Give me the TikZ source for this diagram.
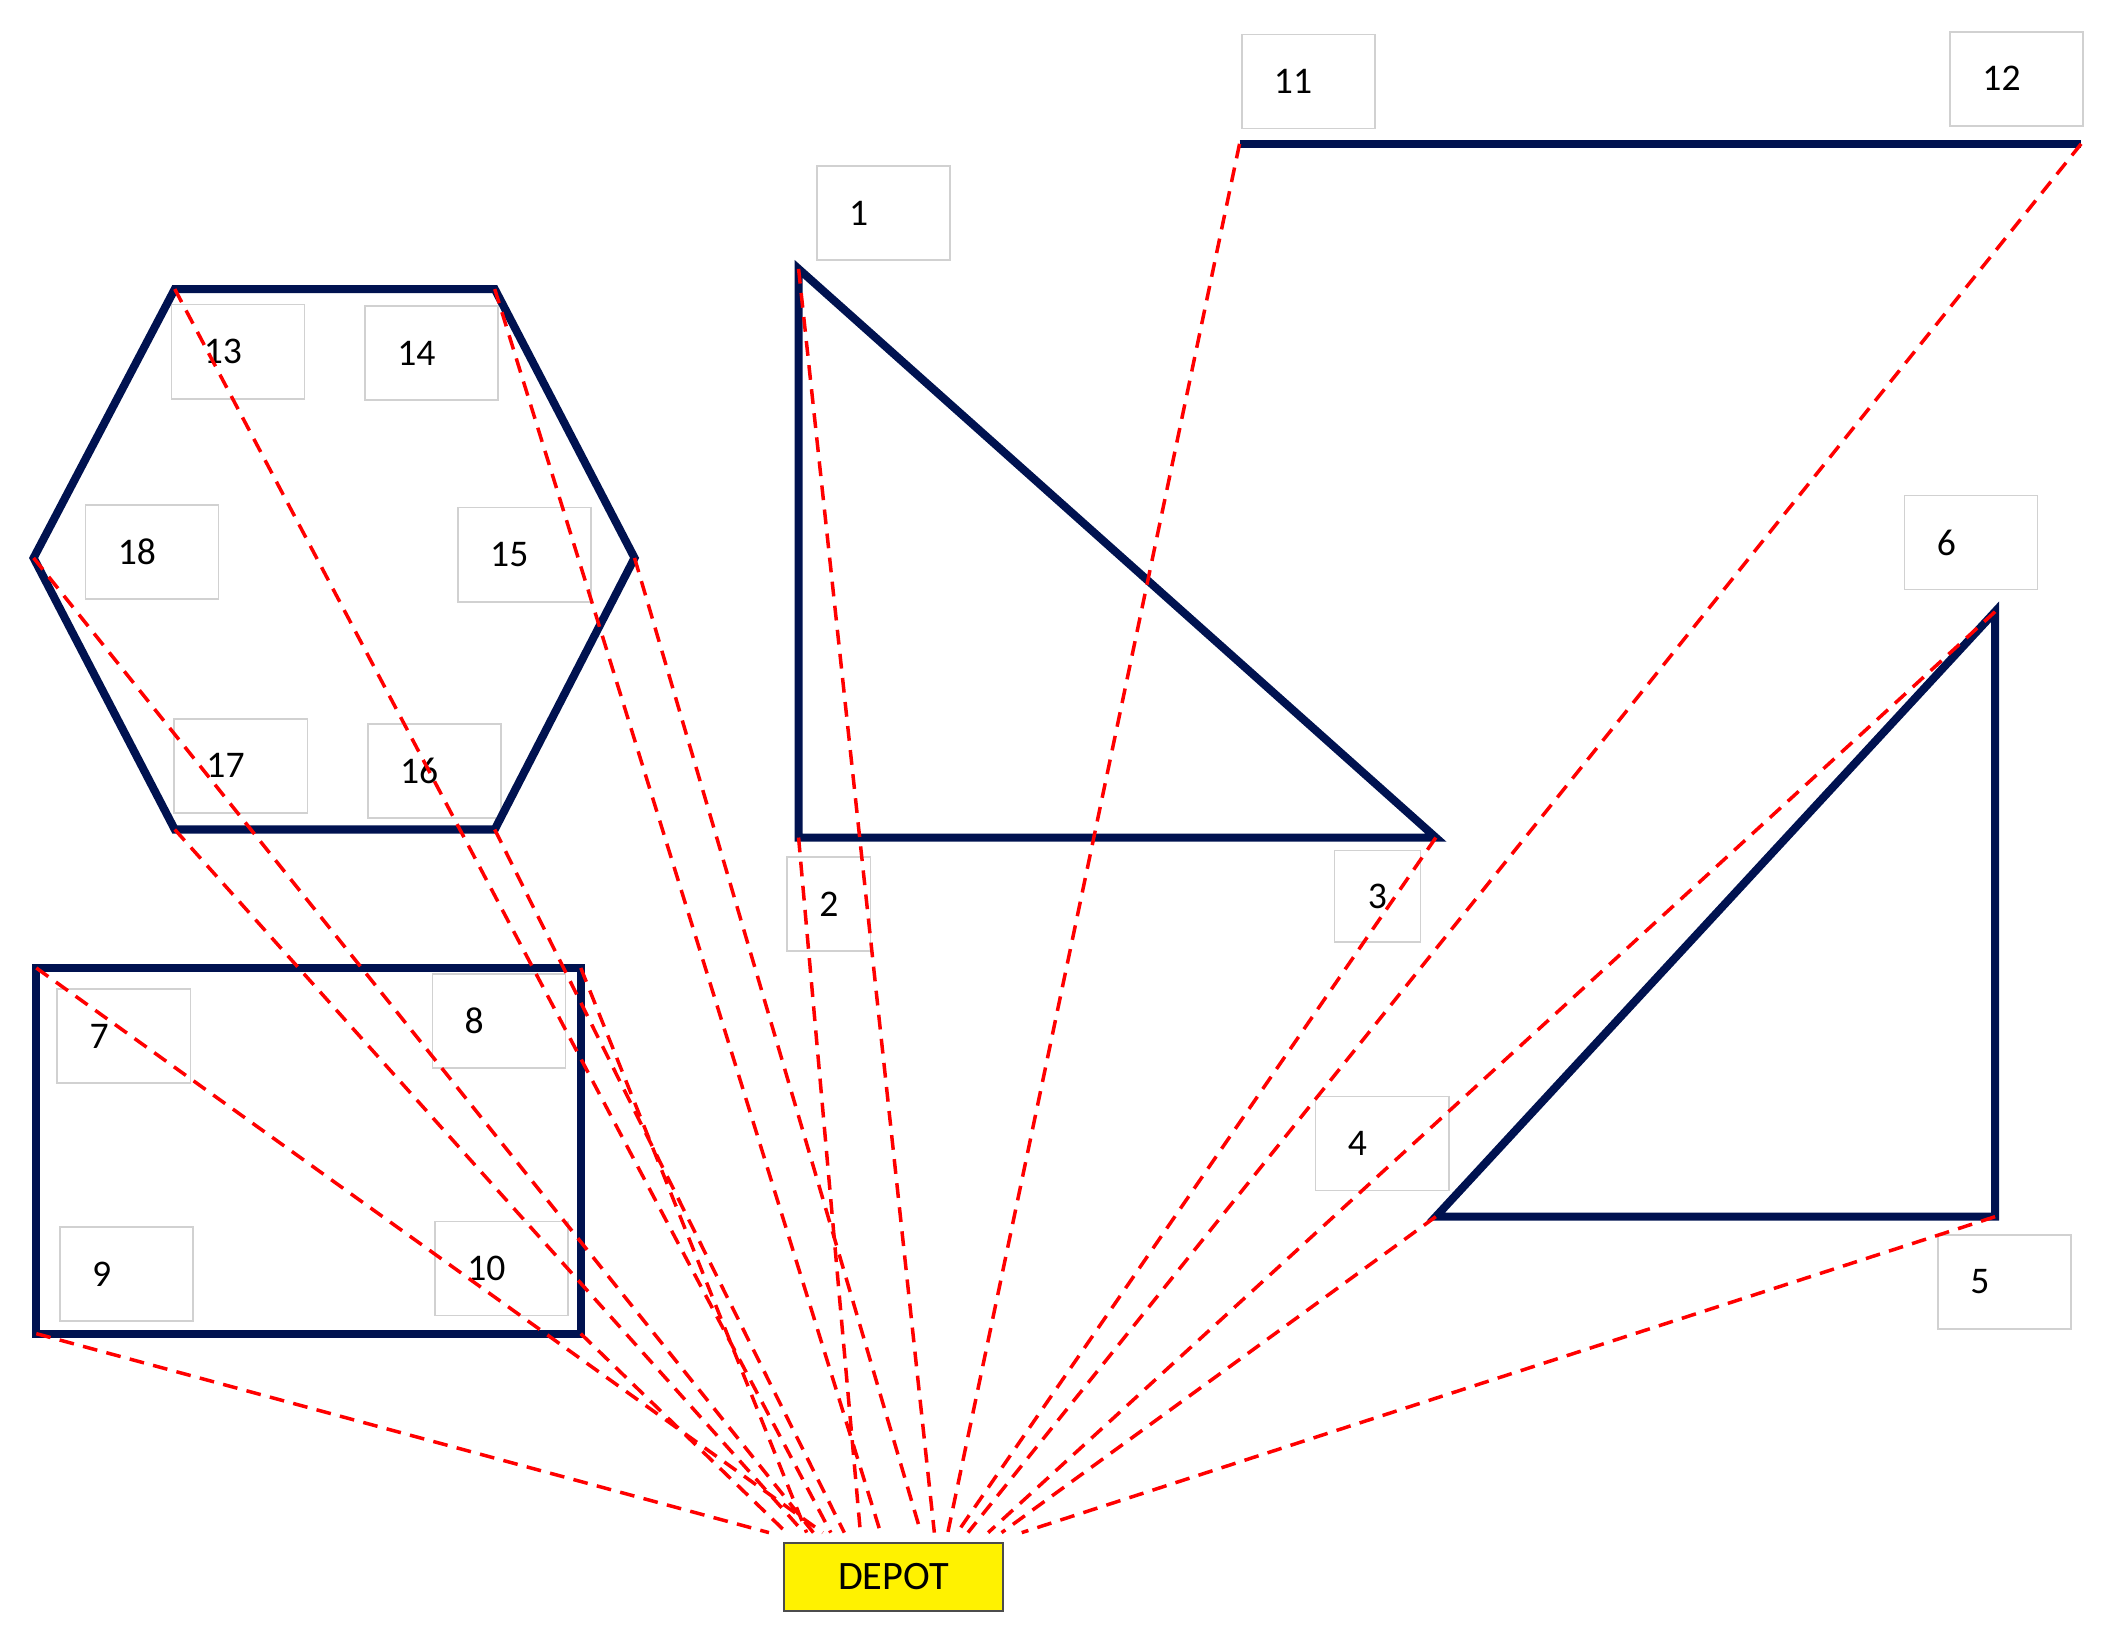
\documentclass[tikz,border=0pt]{standalone}
\usepackage{fontspec}
\setmainfont{Carlito}
\begin{document}
\begin{tikzpicture}[x=1pt,y=-1pt,
  outline/.style={draw={rgb,255:red,0;green,18;blue,80},line width=6pt,line join=miter},
  route/.style={draw=red,line width=2.6pt,dash pattern=on 11pt off 7pt},
  lbl/.style={draw=black!18,line width=1.2pt,minimum width=99pt,minimum height=70pt,inner sep=0pt,fill=white,font=\fontsize{28}{30}\selectfont,text width=99pt,align=left},
]
\useasboundingbox (0,0) rectangle (1568,1221);
% vertices
\coordinate (h1) at (130,215); \coordinate (h2) at (368,215); \coordinate (h3) at (472,415);
\coordinate (h4) at (368,617); \coordinate (h5) at (130,617); \coordinate (h6) at (25,415);
\coordinate (r1) at (27,720); \coordinate (r2) at (432,720); \coordinate (r3) at (432,992); \coordinate (r4) at (27,992);
\coordinate (t1) at (594,200); \coordinate (t2) at (594,623); \coordinate (t3) at (1068,623);
\coordinate (l1) at (922,107); \coordinate (l2) at (1548,107);
\coordinate (u1) at (1484,455); \coordinate (u2) at (1068,905); \coordinate (u3) at (1484,905);
% labels
\def\L#1#2#3{\node[lbl,anchor=north west] (n#1) at (#2,#3) {\hspace*{24pt}#1};}
\L{1}{607}{123}\L{11}{923}{25}\L{12}{1450}{23}\L{13}{127}{226}\L{14}{271}{227}
\L{18}{63}{375}\L{15}{340}{377}\L{17}{129}{534}\L{16}{273}{538}
\L{8}{321}{724}\L{7}{42}{735}\L{9}{44}{912}\L{10}{323}{908}
\L{4}{978}{815}\L{6}{1416}{368}\L{5}{1441}{918}
\node[draw=black!18,line width=1.2pt,minimum width=62pt,minimum height=70pt,inner sep=0pt,fill=white,font=\fontsize{28}{30}\selectfont,anchor=north west] (n2) at (585,637) {2};
\node[draw=black!18,line width=1.2pt,minimum width=64pt,minimum height=68pt,inner sep=0pt,fill=white,font=\fontsize{28}{30}\selectfont,anchor=north west] (n3) at (992,632) {3};
% shapes
\draw[outline] (h1)--(h2)--(h3)--(h4)--(h5)--(h6)--cycle;
\draw[outline] (r1)--(r2)--(r3)--(r4)--cycle;
\draw[outline] (t1)--(t2)--(t3)--cycle;
\draw[outline] (l1)--(l2);
\draw[outline] (u1)--(u2)--(u3)--cycle;
% depot
\node[draw=black!70,line width=1.5pt,fill=yellow,minimum width=163pt,minimum height=50pt,inner sep=0pt,font=\fontsize{30}{32}\selectfont] (dep) at (664.5,1173) {DEPOT};
% routes
\foreach \v/\x in {r4/572,r1/612,r2/600,r3/585,h1/618,h2/655,h3/685,h4/628,h5/598,h6/605,
  t1/695,t2/640,t3/712,l1/705,l2/720,u1/735,u2/745,u3/760}{
  \coordinate (e\v) at (\x,1140);
  \draw[route] (\v) -- (e\v);
}
\end{tikzpicture}
\end{document}
